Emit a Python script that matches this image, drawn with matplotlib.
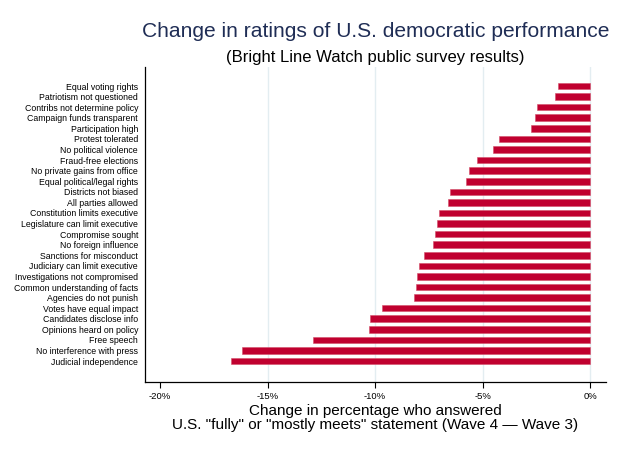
import matplotlib
matplotlib.use("Agg")
import matplotlib.pyplot as plt

categories = [
    "Equal voting rights", "Patriotism not questioned", "Contribs not determine policy",
    "Campaign funds transparent", "Participation high", "Protest tolerated",
    "No political violence", "Fraud-free elections", "No private gains from office",
    "Equal political/legal rights", "Districts not biased", "All parties allowed",
    "Constitution limits executive", "Legislature can limit executive", "Compromise sought",
    "No foreign influence", "Sanctions for misconduct", "Judiciary can limit executive",
    "Investigations not compromised", "Common understanding of facts", "Agencies do not punish",
    "Votes have equal impact", "Candidates disclose info", "Opinions heard on policy",
    "Free speech", "No interference with press", "Judicial independence",
]
changes = [
    -1.50, -1.61, -2.47, -2.58, -2.75, -4.25, -4.53, -5.25, -5.63, -5.77,
    -6.53, -6.60, -7.05, -7.12, -7.22, -7.31, -7.73, -7.98, -8.05, -8.09,
    -8.21, -9.70, -10.24, -10.27, -12.88, -16.17, -16.71,
]
xticks = [-20, -15, -10, -5, 0]
xtick_labels = ["-20%", "-15%", "-10%", "-5%", "0%"]

plt.rcParams['font.family'] = ['Liberation Sans', 'DejaVu Sans']

fig = plt.figure(figsize=(6.24, 4.54), dpi=100)
ax = fig.add_axes([145/624, 1-382/454, (606-145)/624, (382-67)/454])

y = list(range(len(categories)))
ax.barh(y, changes, height=0.62, color="#c0002f", edgecolor="#d4506a", linewidth=0.4, zorder=3)

ax.set_ylim(len(categories) - 1 + 1.98, -1.8)
ax.set_xlim(-20.7, 0.74)

ax.set_yticks(y)
ax.set_yticklabels(categories, fontsize=6.3)
ax.tick_params(axis='y', length=0, pad=5)

ax.set_xticks(xticks)
ax.set_xticklabels(xtick_labels, fontsize=6.8)
ax.tick_params(axis='x', length=4, width=0.8, pad=3)

for gx in [-15, -10, -5, 0]:
    ax.axvline(gx, color="#e3edf1", linewidth=1.0, zorder=1)

for s in ['top', 'right']:
    ax.spines[s].set_visible(False)
ax.spines['left'].set_linewidth(0.9)
ax.spines['bottom'].set_linewidth(0.9)

ax.set_xlabel('Change in percentage who answered\nU.S. "fully" or "mostly meets" statement (Wave 4 \u2014 Wave 3)',
              fontsize=11, linespacing=1.05, labelpad=2)

cx = (145 + 606) / 2 / 624
fig.text(cx, 1 - 37/454, "Change in ratings of U.S. democratic performance",
         ha='center', va='baseline', fontsize=15.1, color="#1f2d55")
fig.text(cx, 1 - 62/454, "(Bright Line Watch public survey results)",
         ha='center', va='baseline', fontsize=12, color="black")

fig.savefig("out.png", dpi=100)
